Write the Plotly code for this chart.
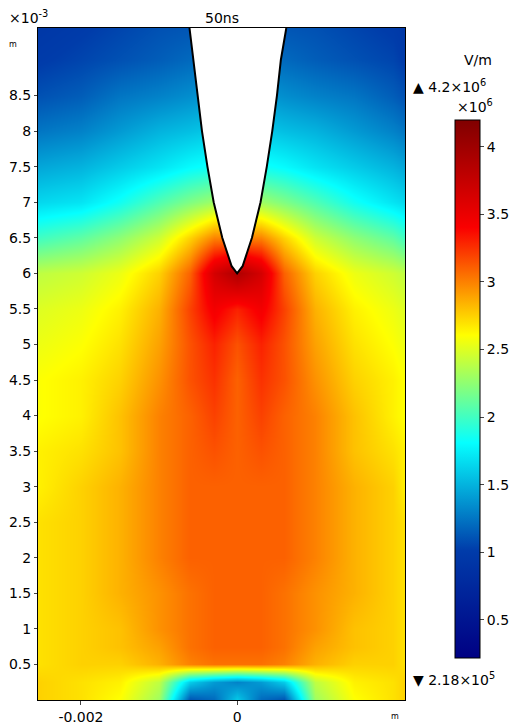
import plotly.graph_objects as go

# grid nodes in mm
x_mm = [-2.55, -2.0, -1.5, -1.0, -0.6, -0.3, 0.0, 0.3, 0.6, 1.0, 1.5, 2.0, 2.15]
y_mm = [0.0, 0.25, 0.5, 0.75, 1.0, 1.5, 2.0, 2.5, 3.0, 3.5, 4.0, 4.5, 5.0, 5.5,
        6.0, 6.5, 7.0, 7.5, 8.0, 8.5, 9.0, 9.45]

# |E| in 1e6 V/m, rows follow y_mm
E = [
    [2.75, 2.7, 2.6, 2.3, 1.1, 1.2, 1.6, 1.2, 1.1, 2.3, 2.6, 2.7, 2.75],
    [2.75, 2.7, 2.65, 2.4, 1.6, 1.4, 1.3, 1.4, 1.6, 2.4, 2.65, 2.7, 2.75],
    [2.7, 2.75, 2.75, 2.85, 3.0, 3.05, 3.05, 3.05, 3.0, 2.85, 2.75, 2.75, 2.7],
    [2.7, 2.75, 2.8, 2.9, 3.05, 3.1, 3.1, 3.1, 3.05, 2.9, 2.8, 2.75, 2.7],
    [2.7, 2.75, 2.8, 2.95, 3.05, 3.1, 3.1, 3.1, 3.05, 2.95, 2.8, 2.75, 2.7],
    [2.7, 2.75, 2.85, 2.95, 3.05, 3.1, 3.1, 3.1, 3.05, 2.95, 2.85, 2.75, 2.7],
    [2.7, 2.75, 2.85, 3.0, 3.1, 3.1, 3.1, 3.1, 3.1, 3.0, 2.85, 2.75, 2.7],
    [2.7, 2.75, 2.85, 3.0, 3.1, 3.1, 3.1, 3.1, 3.1, 3.0, 2.85, 2.75, 2.7],
    [2.65, 2.75, 2.85, 3.0, 3.1, 3.1, 3.1, 3.1, 3.1, 3.0, 2.85, 2.75, 2.65],
    [2.65, 2.7, 2.8, 3.0, 3.1, 3.15, 3.1, 3.15, 3.1, 3.0, 2.8, 2.7, 2.65],
    [2.6, 2.65, 2.8, 3.0, 3.1, 3.2, 3.1, 3.2, 3.1, 3.0, 2.8, 2.65, 2.6],
    [2.6, 2.65, 2.75, 2.95, 3.15, 3.25, 3.1, 3.25, 3.15, 2.95, 2.75, 2.65, 2.6],
    [2.55, 2.6, 2.7, 2.9, 3.15, 3.3, 3.15, 3.3, 3.15, 2.9, 2.7, 2.6, 2.55],
    [2.5, 2.55, 2.65, 2.85, 3.2, 3.45, 3.3, 3.45, 3.2, 2.85, 2.65, 2.55, 2.5],
    [2.4, 2.45, 2.55, 2.75, 3.1, 3.65, 3.9, 3.65, 3.1, 2.75, 2.55, 2.45, 2.4],
    [2.0, 2.1, 2.25, 2.45, 2.75, 3.0, 3.0, 3.0, 2.75, 2.45, 2.25, 2.1, 2.0],
    [1.65, 1.7, 1.85, 2.05, 2.2, 2.3, 2.3, 2.3, 2.2, 2.05, 1.85, 1.7, 1.65],
    [1.45, 1.5, 1.6, 1.7, 1.8, 1.85, 1.85, 1.85, 1.8, 1.7, 1.6, 1.5, 1.45],
    [1.25, 1.3, 1.4, 1.5, 1.55, 1.6, 1.6, 1.6, 1.55, 1.5, 1.4, 1.3, 1.25],
    [1.1, 1.15, 1.25, 1.3, 1.35, 1.4, 1.4, 1.4, 1.35, 1.3, 1.25, 1.15, 1.1],
    [1.0, 1.05, 1.1, 1.15, 1.2, 1.25, 1.25, 1.25, 1.2, 1.15, 1.1, 1.05, 1.0],
    [0.95, 1.0, 1.05, 1.1, 1.12, 1.15, 1.15, 1.15, 1.12, 1.1, 1.05, 1.0, 0.95],
]

# electrode tip outline (mm)
tip_x = [-0.61, -0.56, -0.51, -0.45, -0.38, -0.3, -0.19, -0.13, -0.07, 0.0,
         0.07, 0.13, 0.19, 0.3, 0.38, 0.45, 0.51, 0.56, 0.63]
tip_y = [9.45, 9.0, 8.5, 8.0, 7.5, 7.0, 6.5, 6.3, 6.1, 6.0,
         6.1, 6.3, 6.5, 7.0, 7.5, 8.0, 8.5, 9.0, 9.45]

yticks = [0.5, 1, 1.5, 2, 2.5, 3, 3.5, 4, 4.5, 5, 5.5, 6, 6.5, 7, 7.5, 8, 8.5]
cbar_ticks = [0.5, 1, 1.5, 2, 2.5, 3, 3.5, 4]

fig = go.Figure()
fig.add_trace(go.Heatmap(
    x=x_mm, y=y_mm, z=E, zsmooth='best', colorscale='Jet', zmin=0.218, zmax=4.2,
    colorbar=dict(x=1.109, xanchor='left', y=0.463, len=0.83, thickness=25,
                  tickvals=cbar_ticks, ticks='outside', ticklen=4, outlinecolor='black',
                  outlinewidth=1, tickfont=dict(size=14))))
fig.add_trace(go.Scatter(x=tip_x, y=tip_y, mode='lines', fill='toself',
                         fillcolor='white', line=dict(color='black', width=2),
                         hoverinfo='skip', showlegend=False))

fig.update_xaxes(range=[-2.55, 2.15], tickvals=[-2, 0], ticktext=['-0.002', '0'],
                 ticks='outside', ticklen=4, showgrid=False, zeroline=False, showline=True,
                 linecolor='black', mirror=True, tickfont=dict(size=14), automargin=False)
fig.update_yaxes(range=[0, 9.45], tickvals=yticks, ticks='outside', ticklen=3, showgrid=False,
                 zeroline=False, showline=True, linecolor='black', mirror=True,
                 tickfont=dict(size=14), automargin=False)

ann = [
    dict(text='50ns', x=0.5, y=1.0, yanchor='bottom', xref='paper', yref='paper', showarrow=False, font=dict(size=14)),
    dict(text='×10<sup>-3</sup>', x=-0.085, y=1.0, xanchor='left', yanchor='bottom', xref='paper', yref='paper', showarrow=False, font=dict(size=14)),
    dict(text='m', x=-0.085, y=0.985, xanchor='left', xref='paper', yref='paper', showarrow=False, font=dict(size=8)),
    dict(text='m', x=0.99, y=-0.015, xanchor='right', yanchor='top', xref='paper', yref='paper', showarrow=False, font=dict(size=8)),
    dict(text='V/m', x=1.2, y=0.967, xanchor='center', xref='paper', yref='paper', showarrow=False, font=dict(size=14)),
    dict(text='▲ 4.2×10<sup>6</sup>', x=1.015, y=0.93, xanchor='left', xref='paper', yref='paper', showarrow=False, font=dict(size=14)),
    dict(text='×10<sup>6</sup>', x=1.136, y=0.9, xanchor='left', xref='paper', yref='paper', showarrow=False, font=dict(size=14)),
    dict(text='▼ 2.18×10<sup>5</sup>', x=1.015, y=0.015, xanchor='left', xref='paper', yref='paper', showarrow=False, font=dict(size=14)),
]
# page body adds 8px, so the figure is 8px smaller and margins shifted
fig.update_layout(width=512, height=717, margin=dict(l=30, r=115, t=20, b=25, autoexpand=False),
                  plot_bgcolor='white', paper_bgcolor='white', annotations=ann,
                  font=dict(family='DejaVu Sans', color='black'))
fig.write_html("out.html")
